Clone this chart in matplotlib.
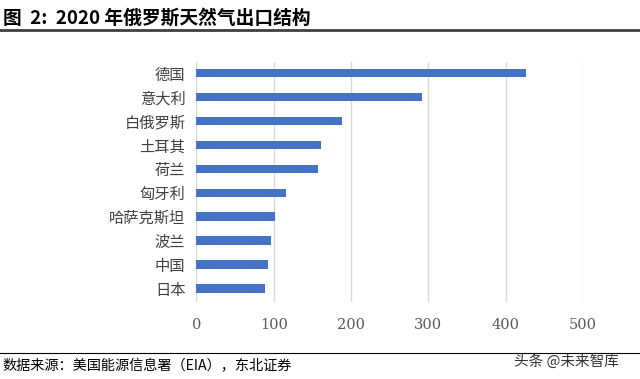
import matplotlib
matplotlib.use("Agg")
import matplotlib.pyplot as plt

plt.rcParams['font.family'] = ['Noto Sans CJK SC', 'DejaVu Sans']

countries = ['德国', '意大利', '白俄罗斯', '土耳其', '荷兰', '匈牙利', '哈萨克斯坦', '波兰', '中国', '日本']
values = [426, 292, 188, 161, 157, 116, 102, 96, 92, 88]
xticks = [0, 100, 200, 300, 400, 500]

fig = plt.figure(figsize=(6.4, 3.79), dpi=100)

# title and rules
fig.text(0.004, 0.952, '图  2:  2020 年俄罗斯天然气出口结构', fontsize=13.5, fontweight='bold',
         va='center', ha='left', color='black')
fig.add_artist(plt.Line2D([0, 1], [0.922, 0.922], color='#404040', lw=2))
fig.add_artist(plt.Line2D([0, 1], [0.069, 0.069], color='black', lw=0.8))
fig.text(0.004, 0.035, '数据来源：美国能源信息署（EIA），东北证券', fontsize=10.2, va='center', ha='left')
fig.text(0.803, 0.047, '头条 @未来智库', fontsize=10.5, va='center', ha='left', color='#333333')

ax = fig.add_axes([0.307, 0.204, 0.604, 0.633])
ypos = list(range(len(countries)))
ax.barh(ypos, values, height=0.35, color='#4472C4', zorder=3)
ax.set_ylim(len(countries) - 0.45, -0.47)
ax.set_xlim(0, 500)
ax.set_xticks(xticks)
ax.set_xticklabels([str(t) for t in xticks], family='DejaVu Serif', fontsize=10.5, color='#595959')
ax.set_yticks(ypos)
ax.set_yticklabels(countries, fontsize=11, color='#404040')
ax.tick_params(axis='both', length=0)
ax.tick_params(axis='x', pad=12)
ax.tick_params(axis='y', pad=8)
ax.grid(axis='x', color='#D9D9D9', lw=1, zorder=0)
for s in ax.spines.values():
    s.set_visible(False)

fig.savefig('out.png', dpi=100)
